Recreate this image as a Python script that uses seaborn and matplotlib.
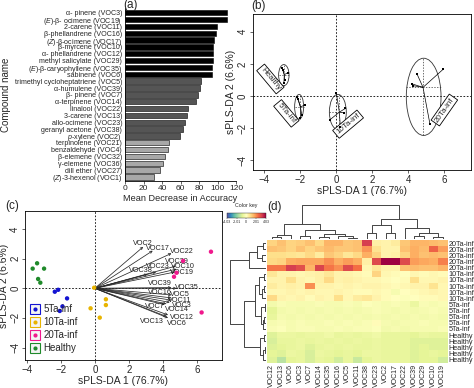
import numpy as np
import pandas as pd
import matplotlib
matplotlib.use("Agg")
import matplotlib.pyplot as plt
import seaborn as sns
from matplotlib.patches import Ellipse
from matplotlib.lines import Line2D
from matplotlib.cm import ScalarMappable
from matplotlib.colors import Normalize

sns.set_theme(style="white")
plt.rcParams["font.family"] = ["Liberation Sans", "DejaVu Sans"]
plt.rcParams["mathtext.fontset"] = "custom"
plt.rcParams["mathtext.it"] = "Liberation Sans:italic"
plt.rcParams["mathtext.rm"] = "Liberation Sans"

# ---------------- (a) random-forest importance ----------------
compounds = [
    "α- pinene (VOC3)", r"($\it{E}$)-β- ocimene (VOC19)", "2-carene (VOC11)",
    "β-phellandrene (VOC16)", r"($\it{Z}$)-β-ocimene (VOC17)", "β-myrcene (VOC10)",
    "α- phellandrene (VOC12)", "methyl salicylate (VOC29)",
    r"($\it{E}$)-β-caryophyllene (VOC35)", "sabinene (VOC6)",
    "trimethyl cycloheptatriene (VOC5)", "α-humulene (VOC39)", "β- pinene (VOC7)",
    "α-terpinene (VOC14)", "linalool (VOC22)", "3-carene (VOC13)",
    "allo-ocimene (VOC23)", "geranyl acetone (VOC38)", r"$\it{p}$-xylene (VOC2)",
    "terpinolene (VOC21)", "benzaldehyde (VOC4)", "β-elemene (VOC32)",
    "γ-elemene (VOC36)", "dill ether (VOC27)", r"($\it{Z}$)-3-hexenol (VOC1)",
]
mda = [110, 110, 99.5, 98, 96, 95.5, 95.5, 95, 94.5, 94,
       82.5, 81.6, 78.6, 76.4, 67.7, 67, 64.5, 63, 59.8,
       48, 46, 42.8, 40.6, 38, 31.4]
tier = ["high"] * 10 + ["mid"] * 9 + ["low"] * 6
tier_colors = {"high": "#000000", "mid": "#555555", "low": "#a8a8a8"}

# ---------------- (b) sPLS-DA individuals ----------------
b_group = ["Healthy"] * 5 + ["5Ta-inf"] * 5 + ["10Ta-inf"] * 5 + ["20Ta-inf"] * 5
b_x = [-3.0, -2.67, -2.9, -2.95, -2.85,
       -2.17, -1.98, -1.74, -2.1, -1.9,
       0.02, -0.32, 0.46, 0.24, 0.52,
       4.5, 5.96, 4.24, 4.25, 5.22]
b_y = [1.77, 1.46, 0.79, 1.6, 1.0,
       -0.04, -1.39, -0.56, -0.2, -1.2,
       0.17, -1.46, -1.04, -1.92, -0.77,
       1.37, 1.67, 0.75, 0.65, -1.75]
groups = ["Healthy", "5Ta-inf", "10Ta-inf", "20Ta-inf"]
ell_cx = [-2.9, -2.05, 0.1, 4.87]
ell_cy = [1.3, -0.67, -0.99, -0.05]
ell_w = [0.58, 0.5, 0.94, 1.93]
ell_h = [1.31, 1.54, 2.18, 4.8]
lab_bx = [-3.65, -2.76, 0.67, 6.02]
lab_by = [1.06, -1.08, -1.75, -0.87]
lab_rot = [-50, -50, 40, 55]

# ---------------- (c) biplot ----------------
c_group = ["Healthy"] * 5 + ["5Ta-inf"] * 5 + ["10Ta-inf"] * 5 + ["20Ta-inf"] * 5
c_x = [-3.39, -3.65, -2.98, -3.33, -3.2,
       -2.35, -2.15, -1.63, -1.9, -2.06,
       -0.04, 0.65, 0.65, -0.25, 0.29,
       6.82, 5.18, 4.8, 4.65, 6.27]
c_y = [1.69, 1.33, 1.33, 0.63, 0.38,
       -0.23, -0.1, -0.68, -1.22, -1.53,
       0.04, -0.74, -1.13, -1.35, -1.98,
       2.47, 1.85, 1.05, 0.78, -1.63]
voc_names = ["VOC2", "VOC17", "VOC22", "VOC29", "VOC10", "VOC19", "VOC38", "VOC23",
             "VOC39", "VOC35", "VOC16", "VOC5", "VOC11", "VOC3", "VOC14", "VOC7",
             "VOC12", "VOC13", "VOC6"]
load_x = [2.84, 3.4, 4.5, 4.75, 4.8, 4.7, 3.1, 3.6, 4.5, 4.8, 4.5, 4.5, 4.5, 4.4,
          4.2, 4.1, 4.3, 4.2, 4.3]
load_y = [2.8, 2.54, 2.36, 1.5, 1.3, 1.1, 0.95, 1.1, 0.05, 0.0, -0.45, -0.65, -0.8,
          -0.95, -1.05, -1.1, -1.8, -1.9, -2.0]
lab_x = [2.84, 3.73, 5.1, 4.8, 5.2, 5.1, 2.7, 3.7, 3.82, 5.4, 3.82, 5.0, 5.0, 5.1,
         4.8, 3.53, 5.1, 3.33, 4.8]
lab_y = [3.04, 2.7, 2.47, 1.8, 1.46, 1.08, 1.2, 1.45, 0.34, 0.07, -0.27, -0.45,
         -0.79, -1.13, -1.42, -1.24, -1.98, -2.25, -2.36]
grp_colors = {"5Ta-inf": "#1414d2", "10Ta-inf": "#e8b400",
              "20Ta-inf": "#f0188c", "Healthy": "#1f8a2a"}

# ---------------- (d) heatmap ----------------
heat_cols = ["VOC12", "VOC13", "VOC6", "VOC3", "VOC7", "VOC14", "VOC35", "VOC16",
             "VOC5", "VOC11", "VOC38", "VOC23", "VOC2", "VOC17", "VOC22", "VOC39",
             "VOC29", "VOC10", "VOC19"]
heat_rows = ["20Ta-inf"] * 5 + ["10Ta-inf"] * 5 + ["5Ta-inf"] * 5 + ["Healthy"] * 5
heat_20ta = [
    [1.0, 1.3, 1.0, 1.1, 1.3, 0.9, 1.5, 1.5, 1.2, 1.3, 3.2, 0.4, 0.3, 0.5, 1.2, 1.5, 1.5, 1.4, 1.3],
    [1.3, 1.2, 1.0, 1.3, 1.0, 1.2, 1.4, 1.2, 1.2, 1.3, 1.9, 0.7, 0.3, 0.3, 1.3, 1.6, 1.4, 2.6, 1.8],
    [0.8, 0.8, 0.7, 0.6, 0.9, 0.5, 1.2, 1.0, 0.6, 0.9, 1.6, 1.0, 0.3, 0.4, 1.0, 1.6, 1.3, 1.4, 1.3],
    [0.9, 1.0, 1.6, 1.7, 1.7, 1.7, 2.0, 1.6, 1.8, 1.6, 0.4, 3.0, 4.0, 4.03, 3.0, 1.8, 1.7, 1.6, 2.2],
    [2.3, 2.3, 3.2, 2.9, 1.5, 3.1, 2.3, 2.0, 3.0, 2.4, 0.2, 0.6, 0.3, 0.3, 1.3, 1.4, 1.3, 1.3, 1.5],
]
heat_10ta = [
    [0.6, 0.3, 0.3, 0.2, 0.3, 0.4, 0.6, 0.3, 0.3, 0.2, 0.1, 1.0, 0.2, 0.1, 0.0, 0.2, 0.1, 0.2, 0.1],
    [0.3, 0.3, 0.8, 0.3, 0.2, 0.4, 0.9, 0.3, 0.4, 0.3, 0.2, 0.2, 0.1, 0.0, 0.1, 0.8, 0.2, 0.2, 0.3],
    [0.5, 0.3, 0.4, 0.3, 2.0, 0.3, 0.3, 0.2, 0.3, 0.2, 0.3, 0.3, 0.2, 0.1, 0.2, 0.3, 0.3, 0.7, 0.2],
    [0.2, 0.2, 0.3, 0.2, 0.3, 0.2, 0.2, 0.3, 0.2, 0.1, 0.1, 0.2, 0.1, -0.3, 0.0, 0.1, 0.2, 0.3, 0.2],
    [0.9, 0.3, 0.2, 0.3, 0.1, 0.3, 0.2, 0.8, 0.2, 0.5, 0.6, 0.3, 0.1, 0.0, -0.1, 0.0, 0.1, 0.1, 0.2],
]
heat_5ta = [
    [-0.4, -0.2, -0.3, -0.3, -0.3, -0.2, -0.3, -0.3, -0.2, -0.3, -0.1, -0.2, -0.3, -0.2, -0.3, -0.6, -0.2, -0.3, -0.2],
    [-0.8, -0.4, -0.3, -0.4, -0.3, -0.4, -0.3, -0.4, -0.3, -0.4, -0.3, -0.2, -0.3, -0.4, -0.3, -0.4, -0.3, -0.2, -0.3],
    [-0.7, -0.3, -0.4, -0.3, -0.4, -0.3, -0.4, -0.3, -0.4, -0.3, -0.4, -0.3, -0.4, -0.3, -0.4, -0.3, -0.4, -0.3, -0.4],
    [-0.3, -0.2, -0.3, -0.2, -0.3, -0.3, -0.2, -0.3, -0.2, -0.3, -0.2, 0.1, -0.3, -0.4, -0.3, -0.3, -0.2, -0.3, -0.3],
    [-0.2, -0.1, -0.3, -0.2, -0.2, -0.3, -0.3, -0.2, -0.3, -0.2, -0.2, -0.1, -0.4, -0.3, -0.4, -0.3, -0.3, -0.3, -0.2],
]
heat_healthy = [
    [-0.9, -0.6, -0.6, -0.7, -0.6, -0.6, -0.5, -0.7, -0.6, -0.7, -0.6, -0.5, -0.7, -0.7, -0.7, -0.8, -0.6, -0.7, -0.7],
    [-1.0, -0.7, -0.7, -0.6, -0.7, -0.6, -0.7, -0.6, -0.7, -0.6, -0.7, -0.6, -0.7, -0.7, -0.7, -0.9, -0.9, -0.9, -0.9],
    [-0.9, -0.8, -0.7, -0.6, -0.9, -0.7, -0.6, -0.7, -0.6, -0.7, -0.7, -0.6, -0.7, -0.7, -0.7, -0.9, -0.8, -0.9, -0.9],
    [-0.8, -0.9, -0.6, -0.7, -1.0, -0.6, -0.7, -0.8, -0.7, -0.8, -0.6, -0.6, -0.7, -0.7, -0.7, -0.9, -0.8, -0.7, -0.8],
    [-0.9, -1.4, -0.8, -0.7, -1.0, -0.7, -0.8, -1.1, -0.7, -1.2, -0.8, -0.6, -0.7, -0.7, -0.7, -0.9, -0.8, -0.8, -1.1],
]
col_links = [
    (0, 1, 0.06), (19, 2, 0.12), (3, 4, 0.10), (5, 6, 0.06), (8, 9, 0.04),
    (7, 23, 0.08), (22, 24, 0.16), (21, 25, 0.26), (20, 26, 0.44),
    (10, 11, 0.17), (12, 13, 0.17), (28, 29, 0.41), (15, 16, 0.09), (17, 18, 0.06),
    (31, 32, 0.17), (14, 33, 0.32), (30, 34, 0.60), (27, 35, 1.00),
]
row_links = [
    (0, 1, 0.08), (2, 3, 0.10), (20, 21, 0.25), (22, 4, 0.47),
    (5, 6, 0.06), (7, 8, 0.05), (25, 9, 0.10), (24, 26, 0.20),
    (10, 11, 0.04), (12, 13, 0.05), (29, 14, 0.08), (28, 30, 0.14), (27, 31, 0.30),
    (15, 16, 0.06), (17, 18, 0.04), (34, 19, 0.07), (33, 35, 0.18), (32, 36, 0.61),
    (23, 37, 1.00),
]
key_ticks = [-4.03, -2.01, 0, 2.01, 4.03]

# =============================================================
W, H = 474, 388
fig = plt.figure(figsize=(W / 100, H / 100), dpi=100)
fig.patch.set_facecolor("white")


def box(l, t, r, b):
    return [l / W, 1 - b / H, (r - l) / W, (b - t) / H]


# ---------- (a)
axa = fig.add_axes(box(125, 8, 236, 181))
dfa = pd.DataFrame({"compound": compounds, "mda": mda, "tier": tier})
sns.barplot(data=dfa, x="mda", y="compound", hue="tier", palette=tier_colors,
            dodge=False, legend=False, width=0.78, edgecolor="black", linewidth=0.4,
            ax=axa, orient="h")
axa.set_xlim(0, 120)
axa.set_ylim(24.6, -0.7)
axa.set_xticks(range(0, 121, 20))
axa.tick_params(axis="x", labelsize=6.0, length=2, width=0.5, pad=1, direction="out",
                bottom=True)
axa.tick_params(axis="y", labelsize=5.1, length=0, pad=2)
for s in ["top", "right"]:
    axa.spines[s].set_visible(False)
axa.spines["left"].set_linewidth(0.6)
axa.spines["bottom"].set_linewidth(0.6)
axa.spines["left"].set_color("black")
axa.spines["bottom"].set_color("black")
axa.set_xlabel("Mean Decrease in Accuracy", fontsize=6.6, labelpad=1)
axa.set_ylabel("")
fig.text(6 / W, 1 - 95 / H, "Compound name", rotation=90, fontsize=7,
         ha="center", va="center")
fig.text(131 / W, 1 - 5 / H, "(a)", fontsize=8.5, ha="center", va="center")

# ---------- (b)
axb = fig.add_axes(box(252.7, 14, 471, 170))
dfb = pd.DataFrame({"x": b_x, "y": b_y, "group": b_group})
for i, g in enumerate(groups):
    sub = dfb[dfb.group == g]
    mx, my = sub.x.mean(), sub.y.mean()
    for _, r in sub.iterrows():
        axb.plot([mx, r.x], [my, r.y], color="black", lw=0.5)
    axb.add_patch(Ellipse((ell_cx[i], ell_cy[i]), ell_w[i], ell_h[i], fill=False,
                          ec="#333333", lw=0.6))
    axb.plot([mx, mx], [ell_cy[i] - ell_h[i] / 2, ell_cy[i] + ell_h[i] / 2],
             ls=(0, (2, 2)), color="#333333", lw=0.5)
    axb.plot([ell_cx[i] - ell_w[i] / 2, ell_cx[i] + ell_w[i] / 2], [my, my],
             ls=(0, (2, 2)), color="#333333", lw=0.5)
    axb.text(lab_bx[i], lab_by[i], g, rotation=lab_rot[i], fontsize=5.8,
             ha="center", va="center", rotation_mode="anchor",
             bbox=dict(boxstyle="square,pad=0.2", fc="white", ec="black", lw=0.6))
sns.scatterplot(data=dfb, x="x", y="y", color="black", marker="s", s=3,
                linewidth=0, ax=axb, zorder=3)
axb.axhline(0, ls=(0, (2, 2)), color="black", lw=0.6, zorder=0)
axb.axvline(0, ls=(0, (2, 2)), color="black", lw=0.6, zorder=0)
axb.set_xlim(-4.63, 7.5)
axb.set_ylim(-4.6, 5.1)
axb.set_xticks([-4, -2, 0, 2, 4, 6])
axb.set_yticks([-4, -2, 0, 2, 4])
axb.tick_params(labelsize=7, length=2.5, width=0.5, pad=1, direction="out",
                bottom=True, left=True)
for lbl in axb.get_yticklabels():
    lbl.set_rotation(90)
    lbl.set_va("center")
for s in axb.spines.values():
    s.set_linewidth(0.6)
    s.set_color("black")
axb.set_xlabel("sPLS-DA 1 (76.7%)", fontsize=7.5, labelpad=1)
axb.set_ylabel("sPLS-DA 2 (6.6%)", fontsize=7.5, labelpad=1)
fig.text(251 / W, 1 - 6 / H, "(b)", fontsize=8.5, ha="left", va="center")

# ---------- (c)
axc = fig.add_axes(box(25, 211, 221.7, 360))
axc.axhline(0, ls=(0, (2, 2)), color="black", lw=0.6, zorder=0)
axc.axvline(0, ls=(0, (2, 2)), color="black", lw=0.6, zorder=0)
for i, v in enumerate(voc_names):
    axc.annotate("", xy=(load_x[i], load_y[i]), xytext=(0, 0),
                 arrowprops=dict(arrowstyle="->", lw=0.55, color="#2a2a2a",
                                 shrinkA=0, shrinkB=0, mutation_scale=4))
    axc.text(lab_x[i], lab_y[i], v, fontsize=5.2, ha="center", va="center",
             color="#222222")
dfc = pd.DataFrame({"x": c_x, "y": c_y, "group": c_group})
sns.scatterplot(data=dfc, x="x", y="y", hue="group", palette=grp_colors, s=10,
                linewidth=0, legend=False, ax=axc, zorder=3)
axc.set_xlim(-4.1, 7.45)
axc.set_ylim(-4.84, 5.22)
axc.set_xticks([-4, -2, 0, 2, 4, 6])
axc.set_yticks([-4, -2, 0, 2, 4])
axc.tick_params(labelsize=7, length=2.5, width=0.5, pad=1, direction="out",
                bottom=True, left=True)
for lbl in axc.get_yticklabels():
    lbl.set_rotation(90)
    lbl.set_va("center")
for s in axc.spines.values():
    s.set_linewidth(0.6)
    s.set_color("black")
axc.set_xlabel("sPLS-DA 1 (76.7%)", fontsize=7.5, labelpad=1)
axc.set_ylabel("sPLS-DA 2 (6.6%)", fontsize=7.5, labelpad=1)
handles = []
for g in ["5Ta-inf", "10Ta-inf", "20Ta-inf", "Healthy"]:
    sq = Line2D([], [], marker="s", ms=7, mfc="#f4f4f4", mec=grp_colors[g], mew=0.8,
                ls="none")
    dot = Line2D([], [], marker="o", ms=3, mfc=grp_colors[g], mec="none", ls="none")
    handles.append((sq, dot))
axc.legend(handles, ["5Ta-inf", "10Ta-inf", "20Ta-inf", "Healthy"], loc="lower left",
           bbox_to_anchor=(-0.01, 0.0), frameon=False, fontsize=7, handlelength=1.0,
           handletextpad=0.4, labelspacing=0.3, borderpad=0.2)
fig.text(12 / W, 1 - 206 / H, "(c)", fontsize=8.5, ha="center", va="center")

# ---------- (d) heatmap
heat = pd.DataFrame(heat_20ta + heat_10ta + heat_5ta + heat_healthy,
                    columns=heat_cols)
axd = fig.add_axes(box(267, 240, 447.7, 362.7))
sns.heatmap(heat, cmap="Spectral_r", vmin=-4.03, vmax=4.03, cbar=False, ax=axd,
            xticklabels=heat_cols, yticklabels=heat_rows)
axd.yaxis.tick_right()
axd.tick_params(axis="both", length=0, pad=0.8)
axd.set_yticklabels(heat_rows, rotation=0, fontsize=5.2)
axd.set_xticklabels(heat_cols, rotation=90, fontsize=5.0)
axd.set_xlabel("")
axd.set_ylabel("")


def draw_dendro(ax, links, n, orient):
    pos = {i: i + 0.5 for i in range(n)}
    hgt = {i: 0.0 for i in range(n)}
    for k, (a, b, h) in enumerate(links):
        node = n + k
        xs = [pos[a], pos[a], pos[b], pos[b]]
        ys = [hgt[a], h, h, hgt[b]]
        if orient == "top":
            ax.plot(xs, ys, color="#444444", lw=0.7)
        else:
            ax.plot(ys, xs, color="#444444", lw=0.7)
        pos[node] = (pos[a] + pos[b]) / 2
        hgt[node] = h


axcd = fig.add_axes(box(267, 204, 447.7, 239))
draw_dendro(axcd, col_links, len(heat_cols), "top")
axcd.set_xlim(0, len(heat_cols))
axcd.set_ylim(0, 1.03)
axcd.axis("off")

axrd = fig.add_axes(box(229, 240, 266, 362.7))
draw_dendro(axrd, row_links, len(heat_rows), "left")
axrd.set_ylim(len(heat_rows), 0)
axrd.set_xlim(1.03, 0)
axrd.axis("off")

# color key
cax = fig.add_axes(box(226.7, 212.7, 266, 218.3))
cb = fig.colorbar(ScalarMappable(norm=Normalize(-4.03, 4.03), cmap="Spectral_r"),
                  cax=cax, orientation="horizontal")
cb.set_ticks(key_ticks)
cb.set_ticklabels(["-4.03", "-2.01", "0", "2.01", "4.03"])
cb.ax.tick_params(labelsize=2.6, length=1, width=0.3, pad=0.5)
cb.outline.set_linewidth(0.3)
fig.text(246 / W, 1 - 206 / H, "Color key", fontsize=3.8, ha="center", va="center")
fig.text(274 / W, 1 - 207 / H, "(d)", fontsize=8.5, ha="center", va="center")

fig.savefig("out.png", dpi=100, facecolor="white")
